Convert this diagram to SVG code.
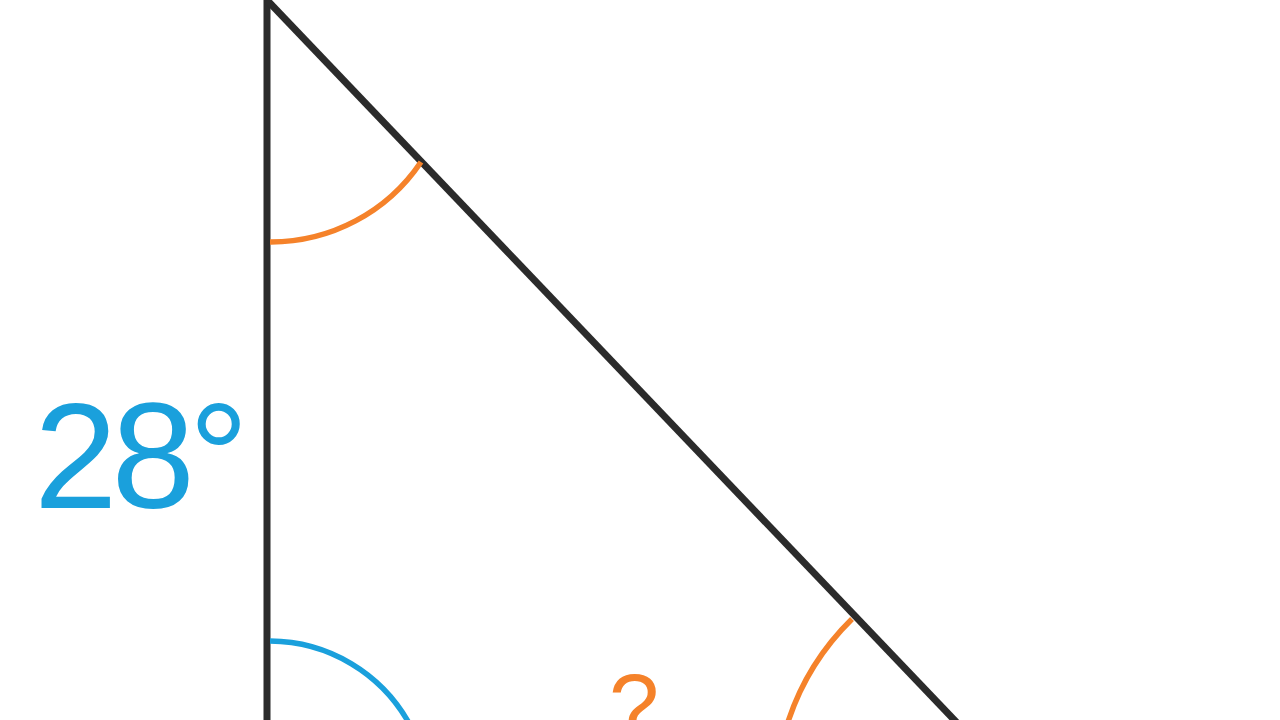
<svg xmlns="http://www.w3.org/2000/svg" width="1280" height="720" viewBox="0 0 1280 720">
<style>
.edge{stroke:#2b2b2b;stroke-width:7;fill:none;stroke-linecap:butt}
.arc-o{stroke:#f5822a;stroke-width:5.5;fill:none}
.arc-b{stroke:#1aa0dc;stroke-width:5.5;fill:none}
.lbl{font-family:"Liberation Sans",Arial,sans-serif}
</style>
<rect width="1280" height="720" fill="#ffffff"/>
<g id="connectors">
<line class="edge" x1="267" y1="-5" x2="267" y2="725"/>
<line class="edge" x1="267" y1="0" x2="961" y2="727"/>
</g>
<g id="angle-top">
<path class="arc-o" d="M270,242 A181,181 0 0 0 421,162"/>
</g>
<g id="angle-bottom-left">
<path class="arc-b" d="M270,641 A160,160 0 0 1 410,725"/>
</g>
<g id="angle-bottom-right">
<path class="arc-o" d="M852,619 A256,256 0 0 0 787,725"/>
</g>
<g id="label-28">
<text class="lbl" x="34" y="508" font-size="150" letter-spacing="-6" fill="#1aa0dc">28°</text>
</g>
<g id="label-q">
<text class="lbl" x="609" y="738" font-size="90" fill="#f5822a">?</text>
</g>
</svg>
